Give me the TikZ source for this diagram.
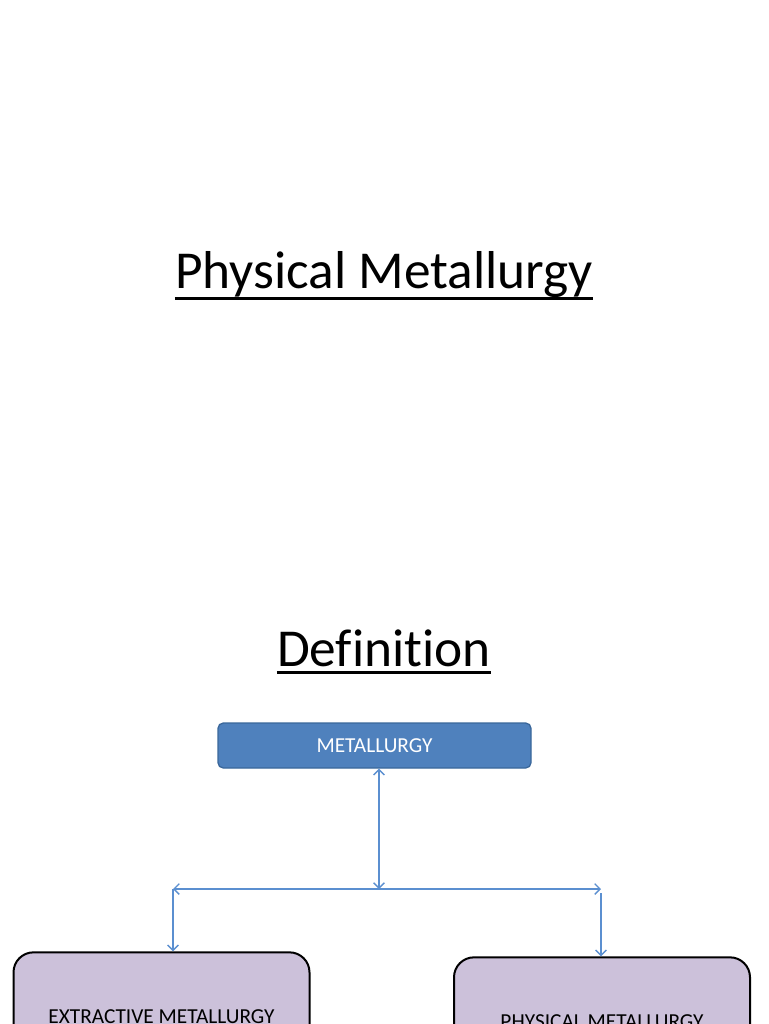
\documentclass[tikz,border=0pt]{standalone}
\usepackage{fontspec}
\setmainfont[Ligatures=NoCommon]{Carlito}
\usetikzlibrary{arrows.meta}

\definecolor{metalblue}{HTML}{4F81BD}
\definecolor{metaledge}{HTML}{3A679B}
\definecolor{linkblue}{HTML}{5B8FD0}
\definecolor{lilac}{HTML}{CCC1DA}

\tikzset{
  heading/.style={inner sep=0pt, anchor=base, font=\fontsize{40}{48}\selectfont},
  rootbox/.style={draw=metaledge, fill=metalblue, line width=1pt, rounded corners=4pt,
    text=white, minimum width=234.75pt, minimum height=33.75pt, inner sep=0pt,
    font=\fontsize{16}{19}\selectfont},
  branchbox/.style={draw=black, fill=lilac, line width=1.5pt, rounded corners=15pt,
    minimum width=222pt, minimum height=97pt, inner sep=0pt,
    font=\fontsize{16}{19}\selectfont},
  link/.style={draw=linkblue, line width=1pt},
  >={Straight Barb[length=4pt, width=8pt]}
}

\begin{document}
\begin{tikzpicture}[x=0.75pt, y=-0.75pt]
    \clip (0,0) rectangle (768,1024);
    \fill [white] (0,0) rectangle (768,1024);

    \node [heading] (title) at (384, 288) {Physical Metallurgy};
    \draw [line width=2.2pt] ([yshift=-8pt]title.base west) -- ([yshift=-8pt]title.base east);

    \node [heading] (defn) at (384, 666) {Definition};
    \draw [line width=2.2pt] ([yshift=-5pt]defn.base west) -- ([yshift=-5pt]defn.base east);

    \node [rootbox] (metal) at (374.5, 745.5) {METALLURGY};

    \node [branchbox] (extract) at (161.5, 1017) {EXTRACTIVE METALLURGY};
    \node [branchbox] (phys) at (602, 1022) {PHYSICAL METALLURGY};

    \coordinate (split) at (379, 889);
    \coordinate (leftend) at (173, 889);
    \coordinate (rightend) at (601, 889);
    \coordinate (rightdrop) at (601, 893);

    \draw [link, <->] (metal.south -| split) -- (split);
    \draw [link, <->] (leftend) -- (rightend);
    \draw [link, ->] (leftend) -- (leftend |- extract.north);
    \draw [link, ->] (rightdrop) -- (rightdrop |- phys.north);
\end{tikzpicture}
\end{document}
